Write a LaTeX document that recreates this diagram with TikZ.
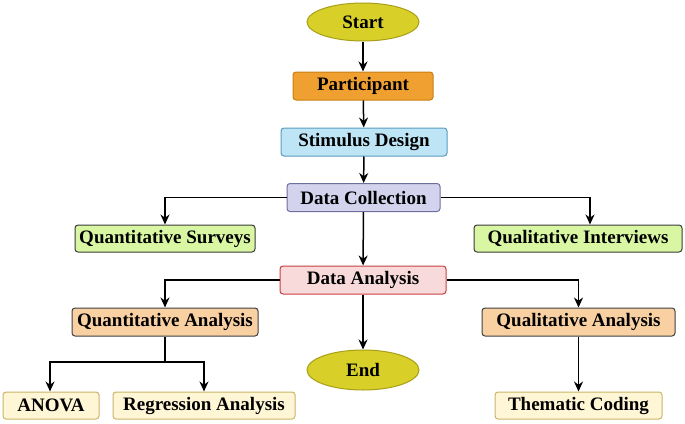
\documentclass[tikz,border=0pt]{standalone}
\usepackage{fontspec}
\setmainfont{Liberation Serif}
\usetikzlibrary{shapes.geometric,arrows.meta}
\definecolor{startfill}{HTML}{D8D028}
\definecolor{startdraw}{HTML}{A89E18}
\definecolor{partfill}{HTML}{EFA030}
\definecolor{partdraw}{HTML}{C97F10}
\definecolor{stimfill}{HTML}{BDE5F5}
\definecolor{stimdraw}{HTML}{5B9BC0}
\definecolor{dcfill}{HTML}{D3D3EE}
\definecolor{dcdraw}{HTML}{6E6E9E}
\definecolor{grfill}{HTML}{D9F7A3}
\definecolor{grdraw}{HTML}{3A3A3A}
\definecolor{dafill}{HTML}{F8DADA}
\definecolor{dadraw}{HTML}{C84040}
\definecolor{pefill}{HTML}{F8D0A2}
\definecolor{pedraw}{HTML}{404040}
\definecolor{crfill}{HTML}{FFF6D5}
\definecolor{crdraw}{HTML}{C9B56A}
\tikzset{
  box/.style={rectangle, rounded corners=3pt, line width=1pt, inner sep=0pt,
    font=\fontsize{19}{21}\selectfont\bfseries, text=black},
  oval/.style={ellipse, line width=1pt, inner sep=0pt,
    font=\fontsize{19}{21}\selectfont\bfseries, text=black},
  conn/.style={line width=1.5pt, -{Stealth[length=10pt,width=9pt]}},
}
\begin{document}
\begin{tikzpicture}[x=1pt,y=-1pt]
\useasboundingbox (0,0) rectangle (685,423);
\node[oval, fill=startfill, draw=startdraw, minimum width=112pt, minimum height=38pt] (start) at (363,22) {Start};
\node[box, fill=partfill, draw=partdraw, minimum width=140pt, minimum height=28pt] (part) at (363,86) {Participant};
\node[box, fill=stimfill, draw=stimdraw, minimum width=166pt, minimum height=28pt] (stim) at (364,142) {Stimulus Design};
\node[box, fill=dcfill, draw=dcdraw, minimum width=153pt, minimum height=28pt] (dc) at (363.5,197.5) {Data Collection};
\node[box, fill=grfill, draw=grdraw, minimum width=180pt, minimum height=27pt] (qs) at (165,238.5) {Quantitative Surveys};
\node[box, fill=grfill, draw=grdraw, minimum width=208pt, minimum height=27pt] (qi) at (578,238.5) {Qualitative Interviews};
\node[box, fill=dafill, draw=dadraw, minimum width=166pt, minimum height=28pt] (da) at (363,280) {Data Analysis};
\node[box, fill=pefill, draw=pedraw, minimum width=186pt, minimum height=28pt] (qa) at (165,322) {Quantitative Analysis};
\node[box, fill=pefill, draw=pedraw, minimum width=193pt, minimum height=28pt] (qla) at (578.5,322) {Qualitative Analysis};
\node[oval, fill=startfill, draw=startdraw, minimum width=112pt, minimum height=40pt] (end) at (363,370) {End};
\node[box, fill=crfill, draw=crdraw, minimum width=96pt, minimum height=27pt] (anova) at (51,405.5) {ANOVA};
\node[box, fill=crfill, draw=crdraw, minimum width=182pt, minimum height=27pt] (reg) at (204,405.5) {Regression Analysis};
\node[box, fill=crfill, draw=crdraw, minimum width=167pt, minimum height=27pt] (tc) at (578.5,405.5) {Thematic Coding};
\coordinate (split) at (165,362);
\draw[conn] (start) -- (part);
\draw[conn] (part) -- (stim);
\draw[conn] (stim) -- (dc);
\draw[conn] (dc.west) -| (qs.north);
\draw[conn] (dc.east) -| ([xshift=12pt]qi.north);
\draw[conn] (dc) -- (da);
\draw[conn] (da.west) -| (qa.north);
\draw[conn] (da.east) -| (qla.north);
\draw[conn] (da) -- (end);
\draw[conn] (qla) -- (tc);
\draw[line width=1.5pt] (qa.south) -- (split);
\draw[conn] (split) -| ([xshift=-1pt]anova.north);
\draw[conn] (split) -| (reg.north);
\end{tikzpicture}
\end{document}
